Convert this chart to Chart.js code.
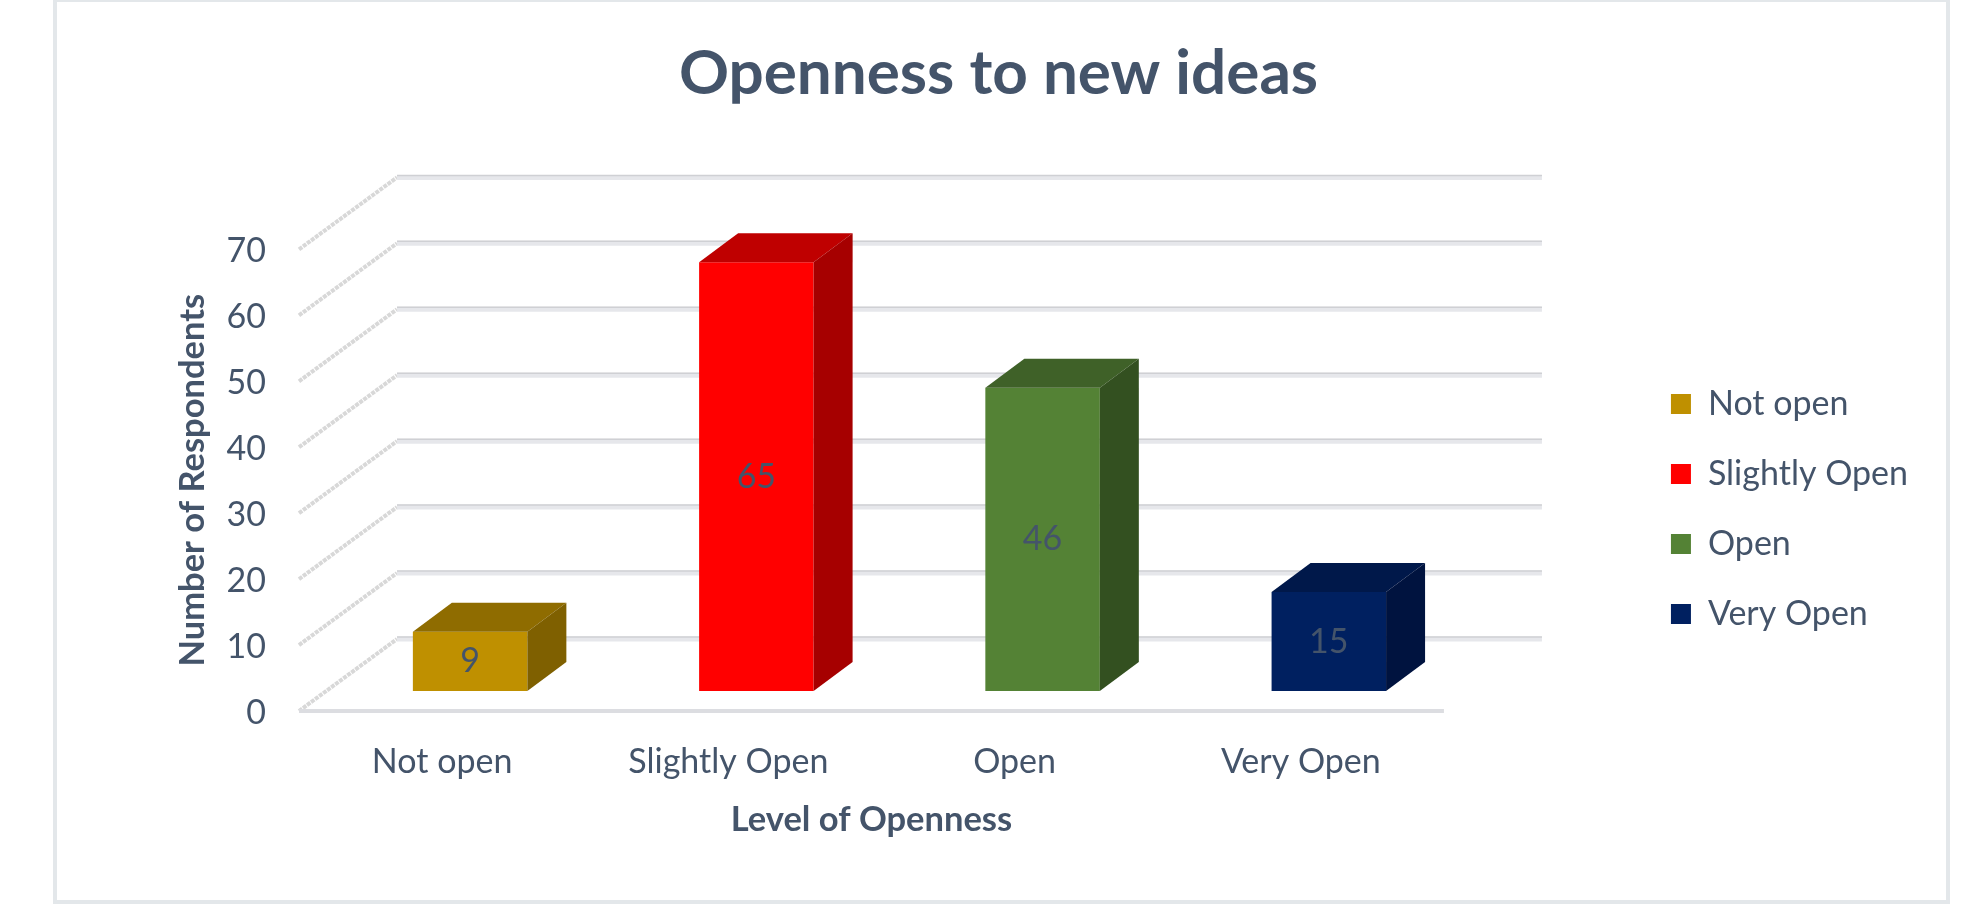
<!DOCTYPE html>
<html>
<head>
<meta charset="utf-8">
<title>Openness to new ideas</title>
<script src="https://cdn.jsdelivr.net/npm/chart.js@4"></script>
<style>
  html, body { margin: 0; background: #fff; overflow: hidden; }
  #frame { position: absolute; left: 53px; top: -2px; width: 1889px; height: 898px; border: 4px solid #e3e7ea; }
  canvas { position: absolute; left: 0; top: 0; }
</style>
</head>
<body>
<div id="frame"></div>
<canvas id="grafica" width="1969" height="924"></canvas>
<script>
const categorias = ['Not open', 'Slightly Open', 'Open', 'Very Open'];
const valores    = [9, 65, 46, 15];
const frente     = ['#bf9000', '#ff0000', '#548235', '#002060'];
const arriba     = ['#8f6c00', '#bf0000', '#3f6128', '#00184a'];
const lado       = ['#7f6000', '#a60000', '#335020', '#00133f'];
const colorTexto = '#44546a';
const fuente     = 'Lato, Carlito, Calibri, sans-serif';

// Fake 3D: back wall offset, bar offset from the floor front edge, bar depth
const PARED = { dx: 98, dy: 72 };
const BARRA = { dx: 28, dy: 20, fx: 39, fy: 29 };

function poligono(ctx, puntos, color) {
  ctx.fillStyle = color;
  ctx.beginPath();
  puntos.forEach(([x, y], i) => i ? ctx.lineTo(x, y) : ctx.moveTo(x, y));
  ctx.closePath();
  ctx.fill();
}

const plugin3D = {
  id: 'plugin3D',
  afterLayout(chart) {
    // legend sits lower than the space it gets from the layout
    chart.legend.top += 45;
    chart.legend.bottom += 45;
  },
  beforeDatasetsDraw(chart) {
    const { ctx, chartArea: a, scales: { y } } = chart;
    ctx.save();
    // slanted side wall lines and back wall lines, one per tick
    y.ticks.forEach(t => {
      const py = y.getPixelForValue(t.value);
      ctx.strokeStyle = '#d8d8d8';
      ctx.lineWidth = 4;
      ctx.setLineDash([4, 1]);
      ctx.beginPath();
      ctx.moveTo(a.left, py);
      ctx.lineTo(a.left + PARED.dx, py - PARED.dy);
      ctx.stroke();
      ctx.setLineDash([]);
      ctx.strokeStyle = '#e6e7eb';
      ctx.lineWidth = 5;
      ctx.beginPath();
      ctx.moveTo(a.left + PARED.dx, py - PARED.dy);
      ctx.lineTo(a.right + PARED.dx, py - PARED.dy);
      ctx.stroke();
      ctx.strokeStyle = '#cfd0d4';
      ctx.lineWidth = 1.5;
      ctx.beginPath();
      ctx.moveTo(a.left + PARED.dx, py - PARED.dy - 2);
      ctx.lineTo(a.right + PARED.dx, py - PARED.dy - 2);
      ctx.stroke();
    });
    // floor front edge
    const y0 = y.getPixelForValue(0);
    ctx.strokeStyle = '#dcdde1';
    ctx.lineWidth = 4;
    ctx.beginPath();
    ctx.moveTo(a.left, y0);
    ctx.lineTo(a.right, y0);
    ctx.stroke();
    ctx.restore();
    // the library's bars stand further back than the floor front edge
    ctx.save();
    ctx.translate(BARRA.dx, -BARRA.dy);
  },
  afterDatasetsDraw(chart) {
    const { ctx } = chart;
    ctx.restore();
    ctx.save();
    chart.getDatasetMeta(0).data.forEach((barra, i) => {
      const izq = barra.x - barra.width / 2 + BARRA.dx;
      const der = barra.x + barra.width / 2 + BARRA.dx;
      const sup = barra.y - BARRA.dy;
      const inf = barra.base - BARRA.dy;
      poligono(ctx, [[izq, sup], [izq + BARRA.fx, sup - BARRA.fy], [der + BARRA.fx, sup - BARRA.fy], [der, sup]], arriba[i]);
      poligono(ctx, [[der, sup], [der + BARRA.fx, sup - BARRA.fy], [der + BARRA.fx, inf - BARRA.fy], [der, inf]], lado[i]);
      ctx.fillStyle = colorTexto;
      ctx.font = '34px ' + fuente;
      ctx.textAlign = 'center';
      ctx.textBaseline = 'middle';
      ctx.fillText(String(valores[i]), (izq + der) / 2, (sup + inf) / 2);
    });
    ctx.restore();
  },
};

new Chart(document.getElementById('grafica'), {
  type: 'bar',
  plugins: [plugin3D],
  data: {
    labels: categorias,
    datasets: [{
      data: valores,
      backgroundColor: frente,
      borderWidth: 0,
      categoryPercentage: 1,
      barPercentage: 0.4,
    }],
  },
  options: {
    responsive: false,
    animation: false,
    devicePixelRatio: 1,
    layout: { padding: { left: 79, right: 51, top: 37, bottom: 33 } },
    plugins: {
      tooltip: { enabled: false },
      title: {
        display: true,
        text: 'Openness to new ideas',
        color: colorTexto,
        font: { family: fuente, size: 62, weight: 'bold' },
        padding: { top: 0, bottom: 138 },
      },
      legend: {
        position: 'right',
        labels: {
          color: colorTexto,
          font: { family: fuente, size: 34 },
          boxWidth: 20,
          boxHeight: 20,
          padding: 36,
          generateLabels: () => categorias.map((c, i) => ({
            text: c, fillStyle: frente[i], strokeStyle: frente[i], lineWidth: 0, fontColor: colorTexto, index: i,
          })),
        },
      },
    },
    scales: {
      x: {
        grid: { display: false },
        border: { display: false },
        ticks: { color: colorTexto, font: { family: fuente, size: 34 }, padding: 23 },
        title: {
          display: true,
          text: 'Level of Openness',
          color: colorTexto,
          font: { family: fuente, size: 34.5, weight: 'bold' },
          padding: { top: 10, bottom: 50 },
        },
        afterFit: s => { s.height = 180; },
      },
      y: {
        min: 0,
        max: 70,
        grid: { display: false },
        border: { display: false },
        ticks: { stepSize: 10, color: colorTexto, font: { family: fuente, size: 34 }, padding: 25, labelOffset: 2 },
        title: {
          display: true,
          text: 'Number of Respondents',
          color: colorTexto,
          font: { family: fuente, size: 34.5, weight: 'bold' },
          padding: { top: 93, bottom: 0 },
        },
        afterFit: s => { s.width = 220; },
      },
      // keeps the room the back wall takes between the plot and the legend
      hueco: {
        type: 'linear',
        position: 'right',
        grid: { display: false },
        border: { display: false },
        ticks: { display: false },
        afterFit: s => { s.width = 191; },
      },
    },
  },
});
</script>
</body>
</html>
